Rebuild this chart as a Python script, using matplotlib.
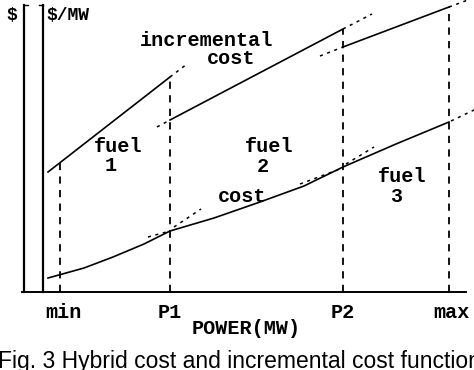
import numpy as np
import matplotlib
matplotlib.use("Agg")
import matplotlib.pyplot as plt

# break points on the power axis (min, P1, P2, max)
power_ticks = [36, 146, 319, 425]
tick_labels = ["min", "P1", "P2", "max"]

# incremental cost ($/MW), one straight segment per fuel
inc_p = [[24, 146], [146, 319], [319, 425]]
inc_y = [[120, 215], [172, 263], [245, 285]]
# dotted continuations of the incremental segments
inc_ext_p = [[146, 163], [133, 146], [319, 348], [296, 319], [425, 452]]
inc_ext_y = [[215, 228], [165, 172], [263, 278], [236, 245], [285, 295]]

# hybrid cost ($), one curve per fuel
cost_p = [[24, 60, 89, 120, 146], [146, 190, 236, 280, 319], [319, 372, 425]]
cost_y = [[14, 24, 35, 48, 61], [61, 74, 90, 106, 125], [125, 148, 170]]
# dotted continuations of the cost curves
cost_ext_p = [[124, 146], [150, 177], [276, 316], [322, 350], [427, 450]]
cost_ext_y = [[55, 61], [65, 83], [108, 123], [128, 145], [171, 182]]

mono = "Liberation Mono"

fig = plt.figure(figsize=(4.74, 3.70), dpi=100)
ax = fig.add_axes([24/474, 78/370, 442/474, 287/370])
ax.set_xlim(0, 442)
ax.set_ylim(0, 287)
for s in ["top", "right"]:
    ax.spines[s].set_visible(False)
ax.spines["left"].set_linewidth(1.6)
ax.spines["bottom"].set_linewidth(1.4)
ax.set_xticks([])
ax.set_yticks([])

# second axis line for $/MW
ax.plot([19, 19], [0, 287], color="k", lw=1.6, clip_on=False)
ax.plot([0, 4], [287, 287], color="k", lw=1.0, clip_on=False)
ax.plot([15, 19], [287, 287], color="k", lw=1.0, clip_on=False)
ax.plot([-2, 0], [0, 0], color="k", lw=1.4, clip_on=False)

# vertical dashed lines at the break points
tops = [120 + (36 - 24) * 95 / 122, 215, 263, 285]
for p, top in zip(power_ticks, tops):
    ax.plot([p, p], [0, top], color="k", lw=1.3, dashes=(4, 3.5))

for px, py in zip(inc_p, inc_y):
    ax.plot(px, py, color="k", lw=1.2, clip_on=False)
for px, py in zip(inc_ext_p, inc_ext_y):
    ax.plot(px, py, color="k", lw=1.1, dashes=(2, 3), clip_on=False)
for px, py in zip(cost_p, cost_y):
    ax.plot(px, py, color="k", lw=1.2)
for px, py in zip(cost_ext_p, cost_ext_y):
    ax.plot(px, py, color="k", lw=1.1, dashes=(2, 3), clip_on=False)

txt = dict(family=mono, fontsize=14.5, fontweight="bold", ha="center", va="center", color="k")
ax.text(183, 252, "incremental", **txt)
ax.text(207, 234, "cost", **txt)
ax.text(94, 146, "fuel", **txt)
ax.text(87, 127, "1", **txt)
ax.text(245, 146, "fuel", **txt)
ax.text(239, 126, "2", **txt)
ax.text(218, 96, "cost", **txt)
ax.text(378, 116, "fuel", **txt)
ax.text(372, 95, "3", **txt)

offs = [4, 0, 0, 2]
for p, lab, o in zip(power_ticks, tick_labels, offs):
    ax.text(p + o, -20, lab, **txt)
ax.text(222, -36, "POWER(MW)", **txt)

fig.text(12/474, 1 - 15/370, "$", family=mono, fontsize=13, fontweight="bold", ha="center", va="center")
fig.text(46/474, 1 - 16/370, "$/MW", family=mono, fontsize=13, fontweight="bold", ha="left", va="center")

fig.text(-2/474, 2/370, "Fig. 3 Hybrid cost and incremental cost functions",
         family="Liberation Sans", fontsize=16.5, ha="left", va="baseline")

fig.savefig("out.png", dpi=100)
